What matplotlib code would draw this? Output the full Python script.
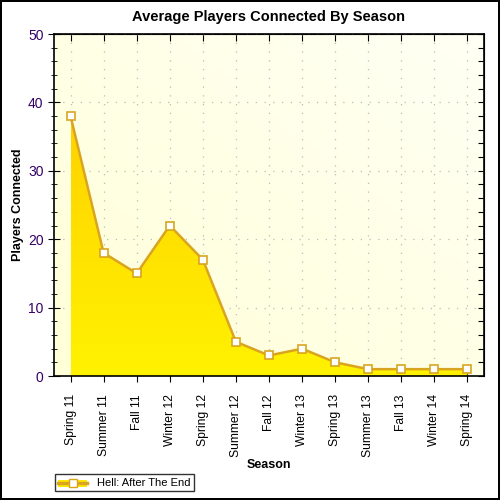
import numpy as np
import matplotlib.pyplot as plt
from matplotlib.colors import LinearSegmentedColormap
from matplotlib.patches import Polygon, Rectangle
from matplotlib.lines import Line2D
from matplotlib.legend_handler import HandlerBase

plt.rcParams["font.family"] = ["Liberation Sans", "DejaVu Sans"]

seasons = ["Spring 11", "Summer 11", "Fall 11", "Winter 12", "Spring 12",
           "Summer 12", "Fall 12", "Winter 13", "Spring 13", "Summer 13",
           "Fall 13", "Winter 14", "Spring 14"]
players = [38, 18, 15, 22, 17, 5, 3, 4, 2, 1, 1, 1, 1]
series_name = "Hell: After The End"

line_col = "#D9A521"
x = np.arange(len(seasons))

fig = plt.figure(figsize=(5, 5), dpi=100)
fig.patch.set_edgecolor("black")
fig.patch.set_linewidth(1.5)
ax = fig.add_axes([0.108, 0.248, 0.86, 0.684])

ax.set_xlim(-0.5, len(seasons) - 0.5)
ax.set_ylim(0, 50)

# background gradient (light yellow, brighter toward top right)
bg = LinearSegmentedColormap.from_list("bg", ["#FFFFD8", "#FFFFF4"])
gx, gy = np.meshgrid(np.linspace(0, 1, 200), np.linspace(0, 1, 200))
ax.imshow((gx + gy) / 2, cmap=bg, extent=(-0.5, len(seasons) - 0.5, 0, 50),
          origin="lower", aspect="auto", zorder=0)

# area fill with vertical gradient
fillmap = LinearSegmentedColormap.from_list("fill", ["#FFF200", "#FFD200"])
grad = np.linspace(0, 1, 256).reshape(-1, 1)
img = ax.imshow(grad, cmap=fillmap, extent=(0, len(seasons) - 1, 0, max(players)),
                origin="lower", aspect="auto", zorder=2)
poly = Polygon(list(zip(x, players)) + [(x[-1], 0), (x[0], 0)],
               closed=True, facecolor="none", edgecolor="none")
ax.add_patch(poly)
img.set_clip_path(poly)

ax.plot(x, players, color=line_col, lw=1.8, marker="s", ms=6,
        mfc="white", mec=line_col, mew=1.2, zorder=4, clip_on=False)

ax.grid(True, color="#BBBBBB", linestyle=(0, (1, 6)), lw=0.9)
for gl in ax.get_xgridlines() + ax.get_ygridlines():
    gl.set_zorder(1)

ax.set_xticks(x)
ax.set_xticklabels(seasons, rotation=90, fontsize=8.7)
ax.set_yticks(range(0, 51, 10))
ax.set_yticks(range(0, 51, 2), minor=True)
ax.tick_params(axis="y", which="major", direction="inout", length=8, labelsize=10,
               labelcolor="#330066")
ax.tick_params(axis="y", which="minor", direction="inout", length=5)
ax.tick_params(axis="x", which="major", direction="inout", length=8, pad=9)
for s in ax.spines.values():
    s.set_linewidth(1.2)

# inward ticks on right and top
ry = ax.secondary_yaxis("right")
ry.set_yticks(range(0, 51, 2))
ry.tick_params(direction="in", length=4, labelright=False)
tx = ax.secondary_xaxis("top")
tx.set_xticks(x)
tx.tick_params(direction="in", length=5, labeltop=False)

ax.set_title("Average Players Connected By Season", fontsize=10.5, fontweight="bold", pad=9)
ax.set_xlabel("Season", fontsize=9, fontweight="bold", labelpad=2)
ax.set_ylabel("Players Connected", fontsize=9, fontweight="bold", labelpad=3)


class AreaHandler(HandlerBase):
    def create_artists(self, legend, orig, xd, yd, w, h, fs, trans):
        r = Rectangle((xd, yd - h * 0.1), w, h * 1.0, facecolor="#FFE800",
                      edgecolor="none", transform=trans)
        l = Line2D([xd, xd + w], [yd + h * 0.5] * 2, color=line_col, lw=2.5,
                   transform=trans)
        m = Line2D([xd + w / 2], [yd + h * 0.5], marker="s", ms=6, mfc="white",
                   mec=line_col, transform=trans)
        return [r, l, m]


handle = Line2D([], [])
leg = fig.legend([handle], [series_name], handler_map={Line2D: AreaHandler()},
                 loc="lower left", bbox_to_anchor=(0.11, 0.018), fontsize=8,
                 frameon=True, fancybox=False, edgecolor="black", borderaxespad=0,
                 handlelength=2.6, handleheight=0.6, borderpad=0.3, handletextpad=0.9)
leg.get_frame().set_linewidth(1)

fig.savefig("out.png", dpi=100, edgecolor=fig.get_edgecolor())
